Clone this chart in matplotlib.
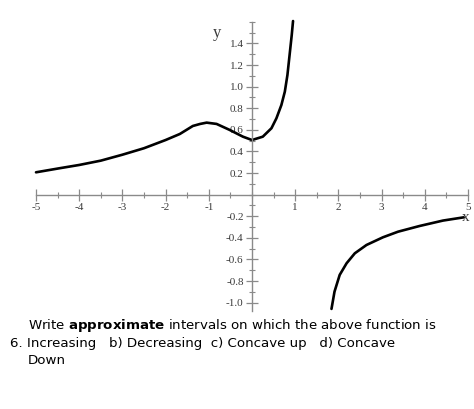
import matplotlib

matplotlib.use("Agg")
import matplotlib.pyplot as plt
from matplotlib.ticker import MultipleLocator, FixedLocator

# curve (two branches around the asymptote)
left_x = [-5.0, -4.45, -4.0, -3.5, -3.0, -2.5, -2.0, -1.67, -1.37, -1.2, -1.05,
          -0.82, -0.52, -0.21, 0.0, 0.25, 0.45, 0.565, 0.68, 0.76, 0.82, 0.87, 0.92, 0.95]
left_y = [0.207, 0.245, 0.275, 0.315, 0.37, 0.43, 0.506, 0.562, 0.636, 0.655, 0.667,
          0.655, 0.60, 0.537, 0.506, 0.537, 0.615, 0.707, 0.83, 0.954, 1.108, 1.293, 1.479, 1.608]
right_x = [1.84, 1.91, 2.03, 2.19, 2.38, 2.65, 3.03, 3.38, 3.88, 4.42, 4.9]
right_y = [-1.058, -0.898, -0.743, -0.635, -0.543, -0.466, -0.395, -0.343, -0.29, -0.24, -0.21]

x_ticks = [-5, -4, -3, -2, -1, 1, 2, 3, 4, 5]
y_ticks = [-1.0, -0.8, -0.6, -0.4, -0.2, 0.2, 0.4, 0.6, 0.8, 1.0, 1.2, 1.4]

question_line1 = r"Write $\mathbf{approximate}$ intervals on which the above function is"
question_line2 = "6. Increasing   b) Decreasing  c) Concave up   d) Concave"
question_line3 = "Down"

AXIS_COLOR = "#8a8a8a"
LABEL_COLOR = "#3a3a3a"
TEXT_SIZE = 9.65

# bold word goes through mathtext, so point it at the same sans family
plt.rcParams["mathtext.fontset"] = "custom"
plt.rcParams["mathtext.bf"] = "DejaVu Sans:bold"
plt.rcParams["mathtext.rm"] = "DejaVu Sans"

fig = plt.figure(figsize=(4.74, 4.09), dpi=100)
ax = fig.add_axes([36 / 474, 0.2389, 432 / 474, 0.7076])
ax.set_xlim(-5, 5)
ax.set_ylim(-1.08, 1.6)

ax.plot(left_x, left_y, color="black", lw=1.9, solid_capstyle="round",
        solid_joinstyle="round", clip_on=False)
ax.plot(right_x, right_y, color="black", lw=1.9, solid_capstyle="round",
        solid_joinstyle="round")

for side in ("top", "right"):
    ax.spines[side].set_visible(False)
ax.spines["left"].set_position(("data", 0))
ax.spines["bottom"].set_position(("data", 0))
for side in ("left", "bottom"):
    ax.spines[side].set_color(AXIS_COLOR)
    ax.spines[side].set_linewidth(1.0)

ax.xaxis.set_major_locator(FixedLocator(x_ticks))
ax.yaxis.set_major_locator(FixedLocator(y_ticks))
ax.xaxis.set_minor_locator(MultipleLocator(0.5))
ax.yaxis.set_minor_locator(MultipleLocator(0.1))
ax.set_xticklabels([str(v) for v in x_ticks])
ax.set_yticklabels([f"{v:.1f}" for v in y_ticks])
ax.tick_params(which="major", direction="inout", length=8, width=0.9, color=AXIS_COLOR,
               labelsize=8, labelcolor=LABEL_COLOR, pad=2)
ax.tick_params(which="minor", direction="inout", length=4, width=0.8, color=AXIS_COLOR)
for lab in ax.get_xticklabels() + ax.get_yticklabels():
    lab.set_fontfamily("Liberation Serif")

ax.text(-0.82, 1.5, "y", fontsize=12, family="Liberation Serif", color=LABEL_COLOR,
        ha="center", va="center")
ax.text(4.95, -0.21, "x", fontsize=11, family="Liberation Serif", color=LABEL_COLOR,
        ha="center", va="center")

# question text under the chart
fig.text(28 / 474, (409 - 325) / 409, question_line1, fontsize=TEXT_SIZE, family="DejaVu Sans",
         va="center", ha="left")
fig.text(10 / 474, (409 - 343) / 409, question_line2, fontsize=TEXT_SIZE, family="DejaVu Sans",
         va="center", ha="left")
fig.text(28 / 474, (409 - 361) / 409, question_line3, fontsize=TEXT_SIZE, family="DejaVu Sans",
         va="center", ha="left")

fig.savefig("out.png", dpi=100)
plt.close(fig)
